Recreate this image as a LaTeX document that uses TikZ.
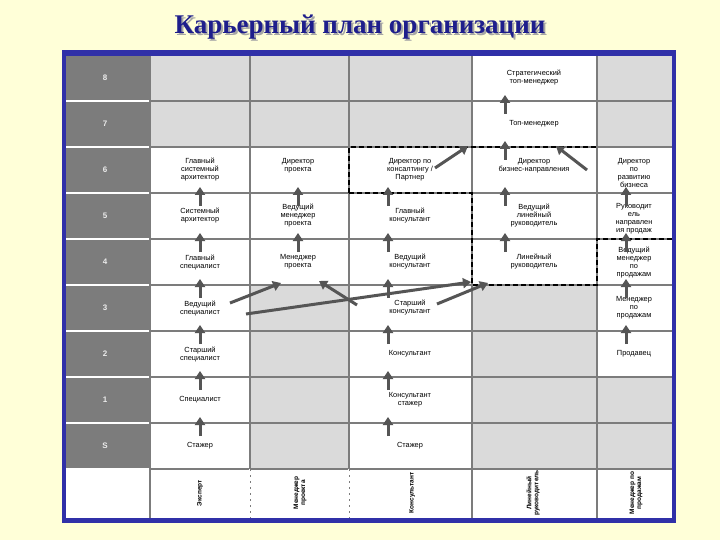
\documentclass[tikz,border=0pt]{standalone}
\usepackage{fontspec}
\setmainfont{Liberation Sans}
\newfontfamily\titlefont{Liberation Serif}
\usetikzlibrary{arrows.meta,calc}
\definecolor{bg}{HTML}{FFFFD8}
\definecolor{frameblue}{HTML}{3030A8}
\definecolor{lgray}{HTML}{DADADA}
\definecolor{dgray}{HTML}{7C7C7C}
\definecolor{arrgray}{HTML}{555555}
\definecolor{titleblue}{HTML}{1E1E8C}
\tikzset{
  cell/.style={font=\fontsize{7.4}{8}\selectfont, align=center, inner sep=0pt},
  rowlab/.style={font=\fontsize{8}{9}\selectfont\bfseries, text=white!85!gray},
  collab/.style={font=\fontsize{6.5}{7}\selectfont\bfseries, align=center, rotate=90},
  arr/.style={draw=arrgray, line width=3pt, -{Triangle[length=8pt,width=10pt]}},
  gridline/.style={draw=dgray, line width=1.6pt},
  dashline/.style={draw=black, line width=1.6pt, dash pattern=on 5pt off 3pt}
}
\begin{document}
\begin{tikzpicture}[x=1pt,y=-1pt]
\useasboundingbox (0,0) rectangle (720,540);
\fill[bg] (0,0) rectangle (720,540);
% title with shadow
\node[font=\titlefont\bfseries\fontsize{27}{30}\selectfont, text=gray!70] (titsh) at (362,29) {Карьерный план организации};
\node[font=\titlefont\bfseries\fontsize{27}{30}\selectfont, text=titleblue] (title) at (360,27) {Карьерный план организации};
% frame
\fill[frameblue] (62,50) rectangle (676,523);
\fill[white] (66,56) rectangle (672,518);
% gray cells
\fill[dgray] (66,56) rectangle (150,469);
\fill[lgray] (150,56) rectangle (472,147);
\fill[lgray] (597,56) rectangle (672,147);
\fill[lgray] (250,285) rectangle (349,469);
\fill[lgray] (472,285) rectangle (597,469);
\fill[lgray] (597,377) rectangle (672,469);
% grid
\foreach \y in {101,147,193,239,285,331,377,423,469}{
  \draw[gridline] (150,\y) -- (672,\y);
  \draw[white, line width=1.6pt] (66,\y) -- (150,\y);
}
\foreach \x in {150,250,349,472,597}{
  \draw[gridline] (\x,56) -- (\x,469);
}
\draw[gridline] (150,469) -- (150,518);
\draw[gridline] (472,469) -- (472,518);
\draw[gridline] (597,469) -- (597,518);
\draw[white, line width=1.6pt, dash pattern=on 4pt off 2pt] (250,469) -- (250,518);
\draw[white, line width=1.6pt, dash pattern=on 4pt off 2pt] (349,469) -- (349,518);
\draw[dgray, line width=1pt, dash pattern=on 2pt off 4pt] (250,469) -- (250,518);
\draw[dgray, line width=1pt, dash pattern=on 2pt off 4pt] (349,469) -- (349,518);
% dashed boundaries
\draw[dashline] (349,193) -- (349,147) -- (597,147);
\draw[dashline] (349,193) -- (472,193) -- (472,285) -- (597,285) -- (597,239) -- (672,239);
% row labels
\foreach \t/\y in {8/78,7/124,6/170,5/216,4/262,3/308,2/354,1/400,S/446}{
  \node[rowlab] (r\t) at (105,\y) {\t};
}
% column 1
\node[cell] (a6) at (200,170) {Главный\\системный\\архитектор};
\node[cell] (a5) at (200,216) {Системный\\архитектор};
\node[cell] (a4) at (200,262) {Главный\\специалист};
\node[cell] (a3) at (200,308) {Ведущий\\специалист};
\node[cell] (a2) at (200,354) {Старший\\специалист};
\node[cell] (a1) at (200,400) {Специалист};
\node[cell] (a0) at (200,446) {Стажер};
% column 2
\node[cell] (b6) at (298,166) {Директор\\проекта};
\node[cell] (b5) at (298,216) {Ведущий\\менеджер\\проекта};
\node[cell] (b4) at (298,262) {Менеджер\\проекта};
% column 3
\node[cell] (c6) at (410,170) {Директор по\\консалтингу /\\Партнер};
\node[cell] (c5) at (410,216) {Главный\\консультант};
\node[cell] (c4) at (410,262) {Ведущий\\консультант};
\node[cell] (c3) at (410,308) {Старший\\консультант};
\node[cell] (c2) at (410,354) {Консультант};
\node[cell] (c1) at (410,400) {Консультант\\стажер};
\node[cell] (c0) at (410,446) {Стажер};
% column 4
\node[cell] (d8) at (534,78) {Стратегический\\топ-менеджер};
\node[cell] (d7) at (534,124) {Топ-менеджер};
\node[cell] (d6) at (534,166) {Директор\\бизнес-направления};
\node[cell] (d5) at (534,216) {Ведущий\\линейный\\руководитель};
\node[cell] (d4) at (534,262) {Линейный\\руководитель};
% column 5
\node[cell] (e6) at (634,173) {Директор\\по\\развитию\\бизнеса};
\node[cell] (e5) at (634,219) {Руководит\\ель\\направлен\\ия продаж};
\node[cell] (e4) at (634,263) {Ведущий\\менеджер\\по\\продажам};
\node[cell] (e3) at (634,308) {Менеджер\\по\\продажам};
\node[cell] (e2) at (634,354) {Продавец};
% bottom labels
\node[collab] (fa) at (200,493) {Эксперт};
\node[collab] (fb) at (300,493) {Менеджер\\проекта};
\node[collab] (fc) at (412,493) {Консультант};
\node[collab] (fd) at (533,493) {Линейный\\руководитель};
\node[collab] (fe) at (636,493) {Менеджер по\\продажам};
% vertical arrows
\foreach \x/\bs in {200/{193,239,285,331,377,423},298/{193,239},388/{193,239,285,331,377,423},505/{101,147,193,239},626/{193,239,285,331}}{
  \foreach \b in \bs {
    \coordinate (t\x-\b) at (\x,\b+13);
    \coordinate (h\x-\b) at (\x,\b-6);
    \draw[arr] (t\x-\b) -- (h\x-\b);
  }
}
% diagonal arrows
\coordinate (p1) at (230,303); \coordinate (q1) at (281,283);
\coordinate (p2) at (246,314); \coordinate (q2) at (471,282);
\coordinate (p3) at (357,305); \coordinate (q3) at (319,281);
\coordinate (p4) at (437,304); \coordinate (q4) at (488,283);
\coordinate (p5) at (435,168); \coordinate (q5) at (468,146);
\coordinate (p6) at (587,170); \coordinate (q6) at (556,146);
\foreach \i in {1,...,6}{ \draw[arr] (p\i) -- (q\i); }
\end{tikzpicture}
\end{document}
